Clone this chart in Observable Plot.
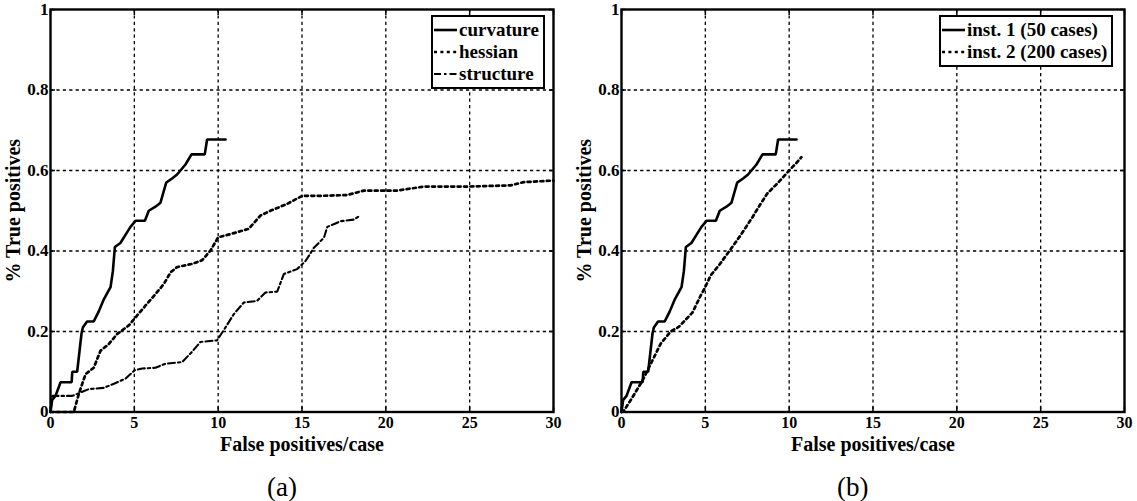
<!DOCTYPE html>
<html>
<head>
<meta charset="utf-8">
<script src="https://cdn.jsdelivr.net/npm/d3@7"></script>
<script src="https://cdn.jsdelivr.net/npm/@observablehq/plot@0.6"></script>
<style>
  html, body { margin: 0; padding: 0; background: #fff; }
  #wrap { position: relative; width: 1137px; height: 501px; overflow: hidden; font-family: "Liberation Serif", "Times New Roman", serif; }
  .panel { position: absolute; top: 0; }
  .cap { position: absolute; top: 474px; font-size: 27px; line-height: 27px; transform: translateX(-50%); }
  .legend { position: absolute; background: #fff; border: 2px solid #000; font-weight: bold; font-size: 19px; padding: 2px 4px 2px 1px; line-height: 22px; }
  .legend div { display: flex; align-items: center; white-space: nowrap; height: 22px; }
  .legend svg { margin-right: 2px; }
</style>
</head>
<body>
<div id="wrap"></div>
<script>
// ---- data ----
const xTicks = [0, 5, 10, 15, 20, 25, 30];
const yTicks = [0, 0.2, 0.4, 0.6, 0.8, 1];
const xLabel = "False positives/case";
const yLabel = "% True positives";
const panelCaptions = ["(a)", "(b)"];

const curvature = [
  [0,0],[0.1,0.03],[0.3,0.04],[0.6,0.074],[1.26,0.074],[1.3,0.1],[1.59,0.1],[1.85,0.195],[1.93,0.21],
  [2.18,0.225],[2.58,0.225],[2.88,0.25],[3.18,0.28],[3.58,0.31],[3.72,0.35],[3.84,0.41],[4.17,0.42],
  [4.47,0.44],[4.77,0.46],[5.07,0.475],[5.63,0.475],[5.86,0.5],[6.26,0.51],[6.56,0.52],[6.9,0.57],
  [7.25,0.58],[7.55,0.59],[7.85,0.605],[8.05,0.615],[8.41,0.64],[9.2,0.64],[9.34,0.677],[10.44,0.677]
];
const hessian = [
  [0,0],[1.39,0],[1.69,0.045],[2.09,0.094],[2.58,0.11],[2.98,0.152],[3.48,0.169],[3.98,0.194],
  [4.67,0.215],[5.07,0.235],[5.66,0.264],[6.26,0.293],[6.76,0.318],[7.16,0.347],[7.55,0.36],
  [8.45,0.368],[9.04,0.377],[9.54,0.401],[10.0,0.434],[10.73,0.442],[11.82,0.455],[12.52,0.488],
  [13.12,0.5],[14.11,0.517],[15.01,0.537],[16.1,0.537],[17.69,0.539],[18.68,0.55],[20.67,0.55],
  [22.26,0.56],[24.84,0.56],[27.43,0.563],[28.22,0.571],[30,0.575]
];
const structure = [
  [0,0],[0.1,0.04],[1.3,0.04],[1.59,0.045],[2.29,0.057],[3.18,0.06],[3.78,0.07],[4.47,0.083],
  [5.03,0.104],[5.47,0.108],[6.26,0.11],[6.86,0.12],[7.85,0.124],[8.45,0.15],[8.94,0.174],
  [9.93,0.178],[10.33,0.203],[10.93,0.243],[11.53,0.272],[12.32,0.276],[12.82,0.297],[13.52,0.299],
  [13.92,0.343],[14.71,0.355],[15.21,0.375],[15.71,0.408],[16.31,0.433],[16.51,0.46],[17.3,0.474],
  [18.1,0.478],[18.45,0.488]
];
const inst1 = [
  [0,0],[0.1,0.03],[0.3,0.04],[0.6,0.074],[1.26,0.074],[1.3,0.1],[1.59,0.1],[1.85,0.195],[1.93,0.21],
  [2.18,0.225],[2.58,0.225],[2.88,0.25],[3.18,0.28],[3.58,0.31],[3.72,0.35],[3.84,0.41],[4.17,0.42],
  [4.47,0.44],[4.77,0.46],[5.07,0.475],[5.63,0.475],[5.86,0.5],[6.26,0.51],[6.56,0.52],[6.9,0.57],
  [7.25,0.58],[7.55,0.59],[7.85,0.605],[8.05,0.615],[8.41,0.64],[9.2,0.64],[9.34,0.677],[10.44,0.677]
];
const inst2 = [
  [0,0],[0.16,0.004],[0.66,0.037],[1.25,0.078],[1.75,0.12],[2.34,0.17],[2.94,0.2],[3.43,0.212],
  [4.23,0.247],[4.73,0.29],[4.93,0.305],[5.33,0.34],[5.82,0.365],[6.52,0.405],[7.12,0.44],
  [7.81,0.484],[8.31,0.518],[8.7,0.543],[9.3,0.568],[10.0,0.6],[10.39,0.617],[10.73,0.633]
];

const legendA = ["curvature", "hessian", "structure"];
const legendB = ["inst. 1 (50 cases)", "inst. 2 (200 cases)"];

// ---- styles ----
const styles = {
  solid: {dash: null, width: 2.6},
  dotted: {dash: "3,3.4", width: 2.7},
  dashdot: {dash: "7,3,2.5,3", width: 2.1}
};

function panel(series) {
  const gridStyle = {stroke: "#000", strokeOpacity: 1, strokeWidth: 1.3, strokeDasharray: "3.2,3.2"};
  const tickStyle = {tickSize: -5, strokeWidth: 1.5, tickFormat: () => "", label: null};
  return Plot.plot({
    width: 568, height: 460,
    marginLeft: 50, marginRight: 15, marginTop: 9, marginBottom: 48.5,
    x: {domain: [0, 30]},
    y: {domain: [0, 1]},
    style: {fontFamily: "'Liberation Serif', 'Times New Roman', serif", fontWeight: "bold", fontSize: "16px", color: "#000", background: "transparent", overflow: "visible"},
    marks: [
      Plot.gridX(xTicks.slice(1, -1), gridStyle),
      Plot.gridY(yTicks.slice(1, -1), gridStyle),
      Plot.axisX(xTicks, {tickSize: 0, tickPadding: 5, label: null, fontSize: 16, tickFormat: d => String(d)}),
      Plot.axisY(yTicks, {tickSize: 0, tickPadding: 2, label: null, fontSize: 17, tickFormat: d => String(d)}),
      Plot.axisX(xTicks, {anchor: "bottom", ...tickStyle}),
      Plot.axisX(xTicks, {anchor: "top", ...tickStyle}),
      Plot.axisY(yTicks, {anchor: "left", ...tickStyle}),
      Plot.axisY(yTicks, {anchor: "right", ...tickStyle}),
      ...series.map(s => Plot.line(s.data, {x: d => d[0], y: d => d[1], stroke: "#000", strokeWidth: s.style.width, strokeDasharray: s.style.dash, strokeLinejoin: "miter"})),
      Plot.frame({stroke: "#000", strokeWidth: 2.4}),
      Plot.text([xLabel], {frameAnchor: "bottom", lineAnchor: "top", dy: 24.5, fontSize: 20, fontWeight: "bold"}),
      Plot.text([yLabel], {frameAnchor: "left", textAnchor: "middle", lineAnchor: "middle", rotate: -90, dx: -37, fontSize: 20, fontWeight: "bold"})
    ]
  });
}

const wrap = document.getElementById("wrap");

function sample(style) {
  const dash = style.dash ? `stroke-dasharray="${style.dash}"` : "";
  return `<svg width="23" height="10"><line x1="0" y1="5" x2="23" y2="5" stroke="#000" stroke-width="${style.width}" ${dash}/></svg>`;
}
function legend(labels, stys, left, top) {
  const div = document.createElement("div");
  div.className = "legend";
  div.style.left = left + "px";
  div.style.top = top + "px";
  div.innerHTML = labels.map((l, i) => `<div>${sample(stys[i])}<span>${l}</span></div>`).join("");
  return div;
}

const pA = panel([
  {data: curvature, style: styles.solid},
  {data: hessian, style: styles.dotted},
  {data: structure, style: styles.dashdot}
]);
pA.classList.add("panel");
pA.style.left = "0px";
wrap.appendChild(pA);

const pB = panel([
  {data: inst1, style: styles.solid},
  {data: inst2, style: styles.dotted}
]);
pB.classList.add("panel");
pB.style.left = "570.7px";
wrap.appendChild(pB);

wrap.appendChild(legend(legendA, [styles.solid, styles.dotted, styles.dashdot], 431, 15));
wrap.appendChild(legend(legendB, [styles.solid, styles.dotted], 939, 15));

panelCaptions.forEach((c, i) => {
  const d = document.createElement("div");
  d.className = "cap";
  d.textContent = c;
  d.style.left = (i === 0 ? 282 : 852.7) + "px";
  wrap.appendChild(d);
});
</script>
</body>
</html>
